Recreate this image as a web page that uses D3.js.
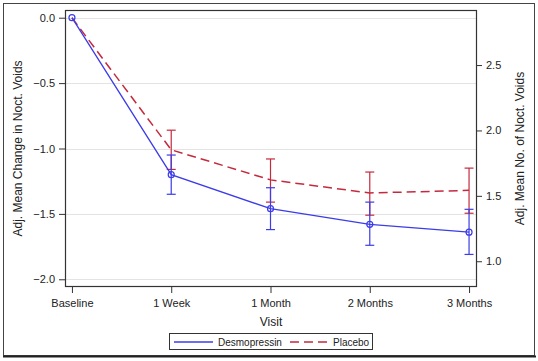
<!DOCTYPE html>
<html><head><meta charset="utf-8">
<script src="https://cdn.jsdelivr.net/npm/d3@7"></script>
<style>body{margin:0;background:#fff}svg{display:block}text{font-family:"Liberation Sans",Arial,sans-serif;fill:#222}</style>
</head><body>
<svg id="c" width="538" height="361"></svg>
<script>
const visits = ["Baseline", "1 Week", "1 Month", "2 Months", "3 Months"];
const desmoMean  = [0, -1.20, -1.46, -1.58, -1.64];
const desmoLower = [0, -1.35, -1.62, -1.74, -1.81];
const desmoUpper = [0, -1.05, -1.30, -1.41, -1.465];
const placeboMean  = [0, -1.01, -1.24, -1.34, -1.32];
const placeboLower = [0, -1.16, -1.41, -1.51, -1.495];
const placeboUpper = [0, -0.86, -1.08, -1.18, -1.15];
const leftTicks = [0, -0.5, -1.0, -1.5, -2.0];
const rightTicks = [1.0, 1.5, 2.0, 2.5];
const baselineMean = 2.862;

const svg = d3.select("#c");
const L = 65, R = 477, T = 10, B = 287;
const blue = "#3c3ce8", red = "#c42a3e";

// outer frame
svg.append("rect").attr("x", 3.5).attr("y", 3.5).attr("width", 531).attr("height", 352)
  .attr("fill", "none").attr("stroke", "#444").attr("stroke-width", 1);
svg.append("line").attr("x1", 3).attr("x2", 536).attr("y1", 356.5).attr("y2", 356.5)
  .attr("stroke", "#222").attr("stroke-width", 2);

const x = d3.scalePoint().domain(visits).range([L, R - 1]).padding(0.07);
const y = d3.scaleLinear().domain([-2.059, 0.059]).range([B, T]);
const y2 = d3.scaleLinear().domain([-2.059 + baselineMean, 0.059 + baselineMean]).range([B, T]);

// gridlines
svg.append("g").selectAll("line").data(leftTicks).join("line")
  .attr("x1", L).attr("x2", R).attr("y1", d => Math.round(y(d)) + 0.5).attr("y2", d => Math.round(y(d)) + 0.5)
  .attr("stroke", "#e3e3e3").attr("stroke-width", 1);

// axes
const fmt = d3.format(".1f");
const gl = svg.append("g").attr("transform", `translate(${L},0)`)
  .call(d3.axisLeft(y).tickValues(leftTicks).tickFormat(fmt).tickSize(6).tickPadding(4));
const gr = svg.append("g").attr("transform", `translate(${R},0)`)
  .call(d3.axisRight(y2).tickValues(rightTicks).tickFormat(fmt).tickSize(5).tickPadding(4));
const gx = svg.append("g").attr("transform", `translate(0,${B})`)
  .call(d3.axisBottom(x).tickSize(6).tickPadding(6));
[gl, gr, gx].forEach(g => {
  g.select(".domain").remove();
  g.selectAll("line").attr("stroke", "#333");
  g.selectAll("text").attr("font-size", 11).attr("font-family", "Liberation Sans, Arial, sans-serif").attr("fill", "#222");
});

// plot frame
svg.append("rect").attr("x", L + 0.5).attr("y", T + 0.5).attr("width", R - L - 1).attr("height", B - T - 1)
  .attr("fill", "none").attr("stroke", "#333").attr("stroke-width", 1.2);

// axis titles
svg.append("text").attr("transform", `translate(22,${(T + B) / 2}) rotate(-90)`)
  .attr("text-anchor", "middle").attr("font-size", 12).text("Adj. Mean Change in Noct. Voids");
svg.append("text").attr("transform", `translate(524,${(T + B) / 2}) rotate(-90)`)
  .attr("text-anchor", "middle").attr("font-size", 12).text("Adj. Mean No. of Noct. Voids");
svg.append("text").attr("x", (L + R) / 2).attr("y", 326).attr("text-anchor", "middle")
  .attr("font-size", 12).text("Visit");

function drawErr(mean, lower, upper, color) {
  const g = svg.append("g").attr("stroke", color).attr("stroke-width", 1.2);
  visits.forEach((v, i) => {
    if (lower[i] === upper[i]) return;
    const cx = x(v);
    g.append("line").attr("x1", cx).attr("x2", cx).attr("y1", y(lower[i])).attr("y2", y(upper[i]));
    g.append("line").attr("x1", cx - 4.5).attr("x2", cx + 4.5).attr("y1", y(lower[i])).attr("y2", y(lower[i]));
    g.append("line").attr("x1", cx - 4.5).attr("x2", cx + 4.5).attr("y1", y(upper[i])).attr("y2", y(upper[i]));
  });
}
const line = d3.line().x((d, i) => x(visits[i])).y(d => y(d));

drawErr(placeboMean, placeboLower, placeboUpper, red);
drawErr(desmoMean, desmoLower, desmoUpper, blue);
svg.append("path").datum(placeboMean).attr("d", line).attr("fill", "none")
  .attr("stroke", red).attr("stroke-width", 1.5).attr("stroke-dasharray", "9,5");
svg.append("path").datum(desmoMean).attr("d", line).attr("fill", "none")
  .attr("stroke", blue).attr("stroke-width", 1.3);
svg.append("g").selectAll("circle").data(desmoMean).join("circle")
  .attr("cx", (d, i) => x(visits[i])).attr("cy", d => y(d)).attr("r", 3)
  .attr("fill", "none").attr("stroke", blue).attr("stroke-width", 1.2);

// legend
const lg = svg.append("g");
lg.append("rect").attr("x", 169.5).attr("y", 333.5).attr("width", 203).attr("height", 16)
  .attr("fill", "#fff").attr("stroke", "#333").attr("stroke-width", 1);
lg.append("line").attr("x1", 174).attr("x2", 213).attr("y1", 342).attr("y2", 342)
  .attr("stroke", blue).attr("stroke-width", 1.3);
lg.append("text").attr("x", 218).attr("y", 345.5).attr("font-size", 10).text("Desmopressin");
lg.append("line").attr("x1", 290).attr("x2", 328).attr("y1", 342).attr("y2", 342)
  .attr("stroke", red).attr("stroke-width", 1.5).attr("stroke-dasharray", "9,5");
lg.append("text").attr("x", 333).attr("y", 345.5).attr("font-size", 10).text("Placebo");
</script>
</body></html>
